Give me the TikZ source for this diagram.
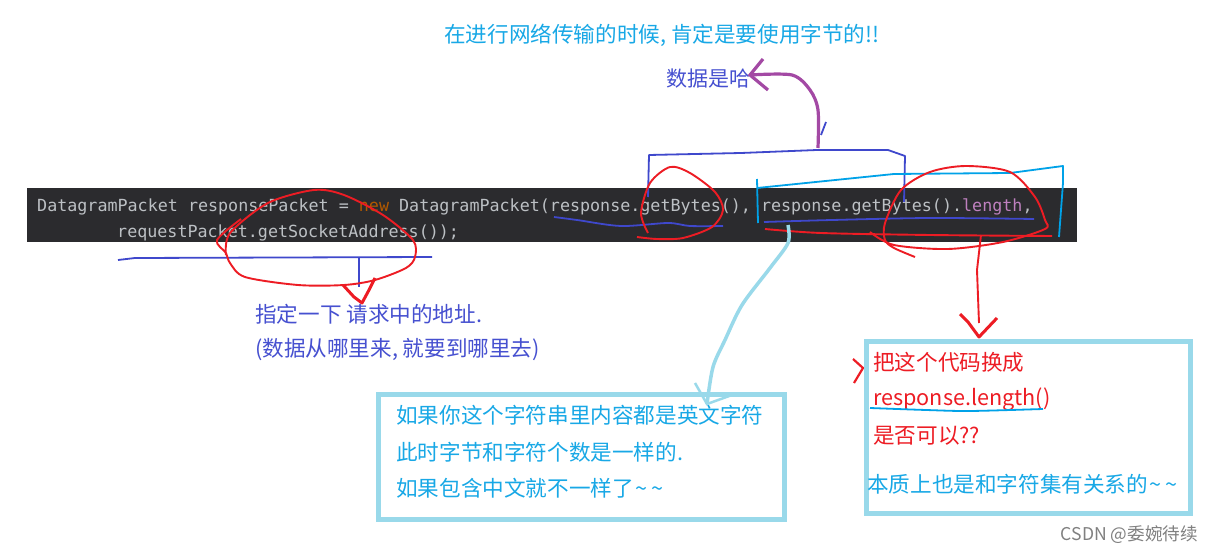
\documentclass[tikz,border=0pt]{standalone}
\usepackage{fontspec}
\usepackage{xcolor}
\setmainfont{Noto Sans CJK SC}
\newfontfamily\codefont{DejaVu Sans Mono}
\newcommand{\twotilde}{\hspace{2pt}\textasciitilde\hspace{4pt}\textasciitilde}
\definecolor{notecyan}{HTML}{18A8E6}
\definecolor{noteblue}{HTML}{4650D0}
\definecolor{penblue}{HTML}{3F48CC}
\definecolor{penred}{HTML}{ED1C24}
\definecolor{penpurple}{HTML}{A349A4}
\definecolor{pencyan}{HTML}{00A2E8}
\definecolor{penpale}{HTML}{99D9EA}
\definecolor{codebg}{HTML}{2B2B2E}
\definecolor{codefg}{HTML}{BCC0C4}

\begin{document}
\begin{tikzpicture}[x=1pt,y=-1pt,
    note/.style={anchor=west,inner sep=0pt,font=\fontsize{21.6}{25}\selectfont},
    code line/.style={anchor=west,inner sep=0pt,text=codefg,font=\codefont\fontsize{16.7}{20}\selectfont},
    note box/.style={draw=penpale,line width=5pt,fill=white,inner sep=0pt},
    blue pen/.style={draw=penblue,line width=1.8pt,line join=round},
    red pen/.style={draw=penred,line width=1.9pt,line join=round},
    cyan pen/.style={draw=pencyan,line width=1.8pt,line join=round}]
        \useasboundingbox (0,0) rectangle (1213,553);
        \fill[white] (0,0) rectangle (1213,553);
        % code strip
        \node[fill=codebg,inner sep=0pt,minimum width=1050pt,minimum height=54pt] (codebar) at (552,215) {};
        \node[code line] (code1) at (37,207) {DatagramPacket responsePacket = \textcolor{orange!70!black}{new} DatagramPacket(response.getBytes(), response.getBytes().\textcolor{violet!50!white}{length},};
        \node[code line] (code2) at (117,233) {requestPacket.getSocketAddress());};
        % boxes
        \node[note box,minimum width=406pt,minimum height=125pt] (lenbox) at (581,456.5) {};
        \node[note box,minimum width=324pt,minimum height=171pt] (askbox) at (1028,427.5) {};
        % texts
        \node[note,text=notecyan] (netnote) at (444,35) {在进行网络传输的时候, 肯定是要使用字节的!!};
        \node[note,text=noteblue,font=\fontsize{21}{25}\selectfont] (dataask) at (666,79) {数据是哈};
        \node[note,text=noteblue] (addrnote) at (255,314) {指定一下 请求中的地址.};
        \node[note,text=noteblue] (fromnote) at (255,350) {(数据从哪里来, 就要到哪里去)};
        \node[note,text=notecyan] (lenline1) at (396,415) {如果你这个字符串里内容都是英文字符};
        \node[note,text=notecyan] (lenline2) at (396,452) {此时字节和字符个数是一样的.};
        \node[note,text=notecyan] (lenline3) at (396,488) {如果包含中文就不一样了\twotilde};
        \node[note,text=penred] (askline1) at (873,362) {把这个代码换成};
        \node[note,text=penred] (askline2) at (873,399) {response.length()};
        \node[note,text=penred] (askline3) at (873,436) {是否可以??};
        \node[note,text=notecyan] (askline4) at (867,484) {本质上也是和字符集有关系的\twotilde};
        \node[anchor=east,inner sep=0pt,text=black!50,font=\fontsize{17.6}{20}\selectfont] (mark) at (1198,535) {CSDN @委婉待续};
        % blue marks
        \draw[blue pen] (118,260) -- (135,258) -- (432,257);
        \draw[blue pen] (359,258) -- (359,287);
        \draw[blue pen] (648,197) -- (649,155) -- (741,153) -- (817,150) -- (888,150) -- (905,156) -- (904,202);
        \draw[blue pen] (821,135) -- (826,122);
        \draw[blue pen] plot[smooth] coordinates {(554,217) (577,220) (621,226) (668,223) (690,226) (723,226)};
        \draw[blue pen] plot[smooth] coordinates {(764,222) (832,220) (930,218) (1034,219)};
        % cyan marks
        \draw[cyan pen] (757,179) -- (758,223);
        \draw[cyan pen] (757,188) -- (894,174) -- (1010,173) -- (1063,166) -- (1063,183) -- (1059,237);
        \draw[cyan pen] plot[smooth] coordinates {(870,408) (926,410) (970,411) (1043,409)};
        % red marks
        \draw[red pen] plot[smooth] coordinates {(226,255) (230,233) (268,203) (314,190) (344,195) (383,215) (413,240) (415,257) (406,268) (375,280) (344,285) (298,285) (245,277) (230,263) (226,253) (217,240) (241,219)};
        \draw[red pen,line width=3pt] (343,285) -- (354,297) -- (362,303) -- (369,290) -- (375,278);
        \draw[red pen] plot[smooth] coordinates {(648,233) (641,213) (650,183) (670,167) (690,173) (715,192) (723,210) (712,227) (683,238) (657,239) (637,237)};
        \draw[red pen] plot[smooth] coordinates {(765,229) (821,233) (930,235) (1052,236)};
        \draw[red pen] plot[smooth] coordinates {(915,257) (894,248) (885,240) (885,223) (901,190) (930,172) (966,166) (1010,172) (1035,197) (1045,220) (1045,229) (1003,242) (948,249) (894,245) (870,232)};
        % arrows
        \coordinate (asktail) at (981,235);
        \coordinate (asktip) at (979,337);
        \draw[red pen] (asktail) -- (977,270) -- (979,323);
        \draw[red pen,line width=3pt] (960,314) -- (968,322) -- (asktip) -- (997,318);
        \draw[red pen,line width=2.2pt] (853,359) -- (863,368) -- (854,383);
        \coordinate (lentail) at (788,225);
        \coordinate (lentip) at (707,404);
        \draw[draw=penpale,line width=3.5pt] plot[smooth] coordinates {(lentail) (788,243) (770,268) (742,305) (725,340) (713,367) (lentip)};
        \draw[draw=penpale,line width=2.5pt] (695,383) -- (lentip) -- (732,395);
        \coordinate (datatail) at (818,148);
        \coordinate (datatip) at (750,75);
        \draw[draw=penpurple,line width=3.2pt] plot[smooth] coordinates {(datatail) (818,110) (810,90) (792,75) (datatip)};
        \draw[draw=penpurple,line width=3.2pt] (763,59) -- (datatip) -- (768,90);
      \end{tikzpicture}
\end{document}
